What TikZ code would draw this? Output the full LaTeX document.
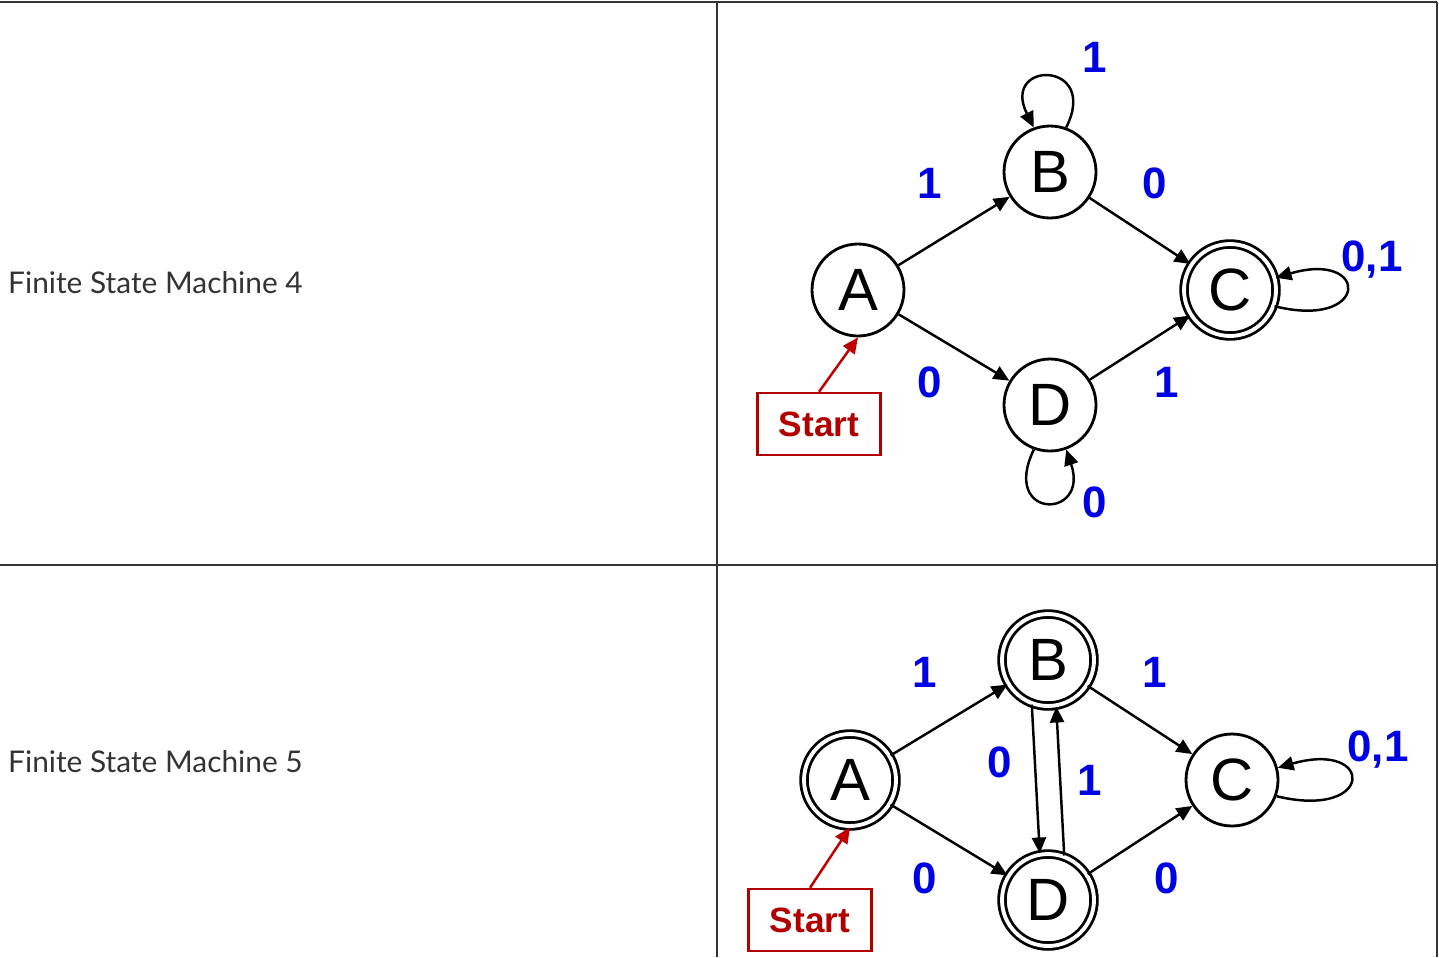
\documentclass[tikz,border=0pt]{standalone}
\usepackage{fontspec}
\setmainfont{Lato}
\newfontfamily\arl{Liberation Sans}
\usetikzlibrary{arrows.meta}
\begin{document}
\begin{tikzpicture}[x=0.02cm,y=-0.02cm,
 st/.style={circle,draw,line width=1.6pt,minimum size=1.84cm,inner sep=0pt,font=\arl\fontsize{34}{34}\selectfont},
 acc/.style={st,double,double distance=2.2pt},
 lab/.style={text=blue!90!black,font=\arl\bfseries\fontsize{25}{25}\selectfont},
 ed/.style={line width=1.4pt,-{Triangle[length=9pt,width=8pt]}},
 sb/.style={draw=red!70!black,line width=1.4pt,text=red!70!black,font=\arl\bfseries\fontsize{20}{20}\selectfont,minimum width=2.46cm,minimum height=1.24cm},
 sa/.style={draw=red!75!black,line width=1.4pt,-{Triangle[length=9pt,width=8pt]}},
 ttl/.style={anchor=west,text=black!80,font=\fontsize{17}{17}\selectfont}]
\useasboundingbox (0,0) rectangle (1439,957);
\draw[line width=0.8pt,black!80] (0,2)--(1437,2) (0,565)--(1437,565) (717,2)--(717,957) (1437,2)--(1437,957);
\node[ttl] (t4) at (2,283) {Finite State Machine 4};
\node[ttl] (t5) at (2,762) {Finite State Machine 5};
% FSM4
\node[st] (A) at (858,290) {A};
\node[st] (B) at (1050,172) {B};
\node[acc] (C) at (1230,290) {C};
\node[st] (D) at (1050,405) {D};
\node[sb] (S) at (819,424) {Start};
\draw[sa] (S.north) -- (A.south);
\draw[ed] (A) -- (B); \draw[ed] (B) -- (C); \draw[ed] (A) -- (D); \draw[ed] (D) -- (C);
\draw[ed] (B.70) .. controls (1100,60) and (1000,60) .. (B.110);
\draw[ed] (D.250) .. controls (1000,520) and (1090,520) .. (D.290);
\draw[ed] (C.-20) .. controls (1370,330) and (1370,250) .. (C.15);
\node[lab] (l1) at (930,183) {1};
\node[lab] (l2) at (1155,183) {0};
\node[lab] (l3) at (1372,260) {0,1};
\node[lab] (l4) at (930,382) {0};
\node[lab] (l5) at (1167,382) {1};
\node[lab] (l6) at (1095,57) {1};
\node[lab] (l7) at (1095,502) {0};
% FSM5
\node[acc] (A5) at (850,780) {A};
\node[acc] (B5) at (1048,660) {B};
\node[st] (C5) at (1232,780) {C};
\node[acc] (D5) at (1048,900) {D};
\node[sb] (S5) at (810,920) {Start};
\draw[sa] (S5.north) -- (A5.south);
\draw[ed] (A5) -- (B5); \draw[ed] (B5) -- (C5); \draw[ed] (A5) -- (D5); \draw[ed] (D5) -- (C5);
\draw[ed] (B5.250) -- (D5.100);
\draw[ed] (D5.70) -- (B5.280);
\draw[ed] (C5.-20) .. controls (1375,820) and (1375,740) .. (C5.15);
\node[lab] (m1) at (925,672) {1};
\node[lab] (m2) at (1155,672) {1};
\node[lab] (m3) at (1378,750) {0,1};
\node[lab] (m4) at (1000,762) {0};
\node[lab] (m5) at (1090,780) {1};
\node[lab] (m6) at (925,878) {0};
\node[lab] (m7) at (1167,878) {0};
\end{tikzpicture}
\end{document}
